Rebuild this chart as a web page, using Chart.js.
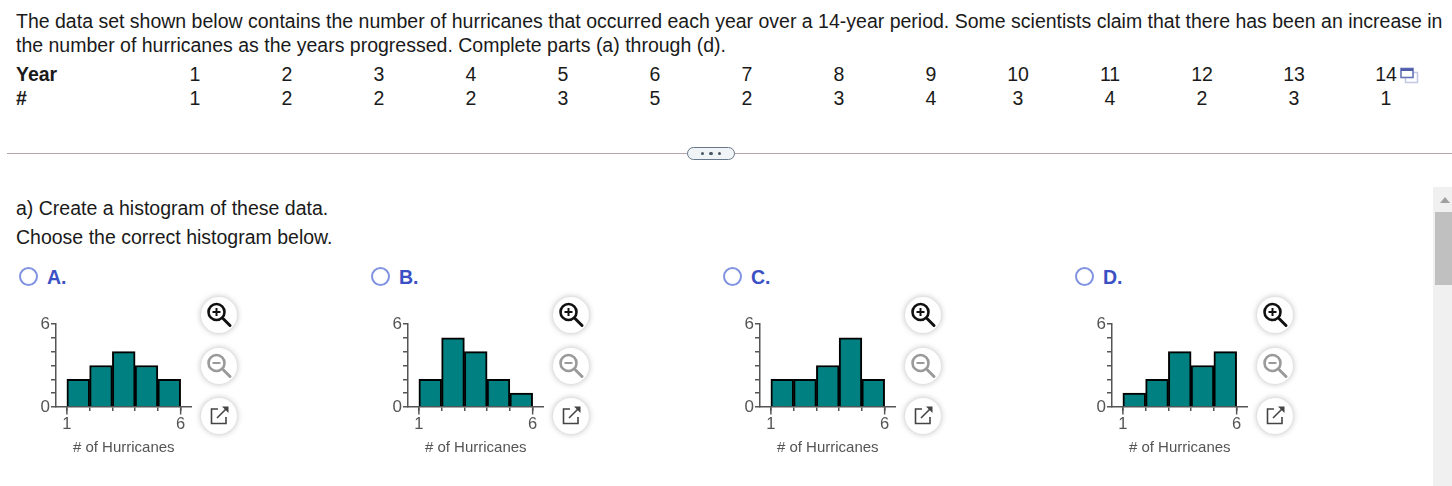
<!DOCTYPE html>
<html>
<head>
<meta charset="utf-8">
<title>Hurricanes</title>
<script src="https://cdn.jsdelivr.net/npm/chart.js@4"></script>
<style>
  html, body { margin: 0; padding: 0; background: #fff; overflow: hidden; }
  body { width: 1452px; height: 486px; position: relative; font-family: "Liberation Sans", Arial, sans-serif; color: #1a1a1a; }
  .t { position: absolute; white-space: nowrap; font-size: 19.5px; line-height: 24px; }
  .c { transform: translateX(-50%); }
  .b { font-weight: bold; }
  canvas { position: absolute; }
  .radio { position: absolute; width: 15px; height: 15px; border: 2.5px solid #8193e0; border-radius: 50%; top: 267px; }
  .letter { position: absolute; top: 265px; font-size: 19.5px; line-height: 24px; font-weight: bold; color: #3a50c4; }
  .btn { position: absolute; width: 36px; height: 36px; border-radius: 50%; background: #fff; box-shadow: 0 0 6px rgba(0,0,0,.28); }
  .btn svg { position: absolute; left: 0; top: 0; }
  #divider { position: absolute; left: 7px; right: 0; top: 153px; height: 1px; background: #b5a3ab; }
  #pill { position: absolute; left: 687px; top: 147px; width: 46px; height: 11px; border: 1.5px solid #66788a; border-radius: 7px; background: #f1f4f6; text-align: center; }
  #pill i { display: inline-block; width: 3.5px; height: 3.5px; border-radius: 50%; background: #4a5560; margin: 3.5px 2.5px 0; vertical-align: top; }
  #track { position: absolute; left: 1433px; top: 187px; width: 19px; bottom: 0; background: #f0f0f0; }
  #thumb { position: absolute; left: 1435px; top: 212px; width: 17px; height: 73px; background: #c0c0c0; }
  #arrow { position: absolute; left: 1440px; top: 197px; width: 0; height: 0; border-left: 5.5px solid transparent; border-right: 5.5px solid transparent; border-bottom: 6px solid #a0a0a0; }
</style>
</head>
<body>
<div class="t" style="left:16px;top:9px">The data set shown below contains the number of hurricanes that occurred each year over a 14-year period. Some scientists claim that there has been an increase in</div>
<div class="t" style="left:16px;top:33px">the number of hurricanes as the years progressed. Complete parts (a) through (d).</div>
<div class="t b" style="left:16px;top:62px">Year</div>
<div class="t b" style="left:16px;top:86px">#</div>
<div id="table"></div>
<svg style="position:absolute;left:1400px;top:67px" width="20" height="18">
  <rect x="5.5" y="5.5" width="12" height="10" fill="#fff" stroke="#c3c8e4" stroke-width="1.5"/>
  <rect x="1" y="1.5" width="12" height="9" fill="#fff" stroke="#6673b8" stroke-width="1.6"/>
  <rect x="1" y="1.5" width="12" height="2.5" fill="#4f5da8"/>
</svg>
<div id="divider"></div>
<div id="pill"><i></i><i></i><i></i></div>
<div class="t" style="left:16px;top:196px">a) Create a histogram of these data.</div>
<div class="t" style="left:16px;top:225px">Choose the correct histogram below.</div>
<div id="track"></div><div id="thumb"></div><div id="arrow"></div>
<div id="options"></div>

<script>
const years = [1, 2, 3, 4, 5, 6, 7, 8, 9, 10, 11, 12, 13, 14];
const hurricanes = [1, 2, 2, 2, 3, 5, 2, 3, 4, 3, 4, 2, 3, 1];
const yearCols = [195, 287, 379, 471, 563, 655, 747, 839, 931, 1018, 1110, 1202, 1294, 1386];

const binMids = [1.5, 2.5, 3.5, 4.5, 5.5];
const countsA = [2, 3, 4, 3, 2];
const countsB = [2, 5, 4, 2, 1];
const countsC = [2, 2, 3, 5, 2];
const countsD = [1, 2, 4, 3, 4];
const xTickValues = [1, 2, 3, 4, 5, 6];
const xLabelled = [1, 6];
const yLabelled = [0, 6];
const optionLetters = ["A.", "B.", "C.", "D."];
const optionCounts = [countsA, countsB, countsC, countsD];

const gray = "#555";

const table = document.getElementById("table");
years.forEach((y, i) => {
  table.insertAdjacentHTML("beforeend",
    `<div class="t c" style="left:${yearCols[i]}px;top:62px">${y}</div>` +
    `<div class="t c" style="left:${yearCols[i]}px;top:86px">${hurricanes[i]}</div>`);
});

const zoomIn = `<svg width="36" height="36"><circle cx="15.5" cy="15" r="8" fill="none" stroke="#111" stroke-width="2.6"/><path d="M21.5 21l7.5 7.5" stroke="#111" stroke-width="3" stroke-linecap="round"/><path d="M11.5 15h8M15.5 11v8" stroke="#111" stroke-width="2"/></svg>`;
const zoomOut = `<svg width="36" height="36"><circle cx="15.5" cy="15" r="8" fill="none" stroke="#9a9a9a" stroke-width="2.6"/><path d="M21.5 21l7.5 7.5" stroke="#9a9a9a" stroke-width="3" stroke-linecap="round"/><path d="M11.5 15h8" stroke="#9a9a9a" stroke-width="2"/></svg>`;
const popOut = `<svg width="36" height="36"><path d="M17 11h-6.5v14.5H25V19" fill="none" stroke="#444" stroke-width="1.6"/><path d="M16 20l10-10" stroke="#444" stroke-width="1.6"/><path d="M21 8.5h6.5V15z" fill="#444"/></svg>`;

// the labelled x ticks are longer than the others
const longTicks = {
  id: "longTicks",
  afterDraw(chart) {
    const { ctx, scales } = chart;
    ctx.save();
    ctx.strokeStyle = gray;
    ctx.lineWidth = 1.5;
    xLabelled.forEach((v) => {
      const px = scales.x.getPixelForValue(v);
      ctx.beginPath();
      ctx.moveTo(px, scales.x.top);
      ctx.lineTo(px, scales.x.top + 7.5);
      ctx.stroke();
    });
    ctx.restore();
  },
};

const options = document.getElementById("options");

optionLetters.forEach((letter, i) => {
  const dx = 352 * i;
  options.insertAdjacentHTML("beforeend",
    `<div class="radio" style="left:${19 + dx}px"></div>` +
    `<div class="letter" style="left:${47 + dx}px">${letter}</div>` +
    `<div class="btn" style="left:${201 + dx}px;top:297px">${zoomIn}</div>` +
    `<div class="btn" style="left:${201 + dx}px;top:348px">${zoomOut}</div>` +
    `<div class="btn" style="left:${201 + dx}px;top:398px">${popOut}</div>`);

  const canvas = document.createElement("canvas");
  canvas.width = 176;
  canvas.height = 147;
  canvas.style.left = 16 + dx + "px";
  canvas.style.top = "310px";
  options.appendChild(canvas);

  new Chart(canvas.getContext("2d"), {
    type: "bar",
    data: {
      datasets: [{
        data: binMids.map((m, k) => ({ x: m, y: optionCounts[i][k] })),
        backgroundColor: "#008080",
        borderColor: "#000",
        borderWidth: 2,
        barPercentage: 1,
        categoryPercentage: 1,
      }],
    },
    plugins: [longTicks],
    options: {
      responsive: false,
      animation: false,
      devicePixelRatio: 1,
      layout: { padding: { top: 14, left: 0, right: 0, bottom: 0 } },
      plugins: { legend: { display: false }, tooltip: { enabled: false } },
      scales: {
        x: {
          type: "linear",
          offset: false,
          min: 0.5,
          max: 6.5,
          afterBuildTicks: (s) => { s.ticks = xTickValues.map((v) => ({ value: v })); },
          afterFit: (s) => { s.height = 50; },
          grid: { offset: false, drawOnChartArea: false, color: gray, tickLength: 4, lineWidth: 1.5 },
          border: { color: gray, width: 1.5 },
          ticks: {
            autoSkip: false,
            maxRotation: 0,
            padding: 4,
            color: gray,
            font: { family: "Liberation Sans", size: 16.5 },
            callback: (v) => (xLabelled.includes(v) ? String(v) : ""),
          },
          title: {
            display: true,
            text: "# of Hurricanes",
            color: gray,
            font: { family: "Liberation Sans", size: 15 },
            padding: { top: 3, bottom: 0 },
          },
        },
        y: {
          min: 0,
          max: 6,
          afterFit: (s) => { s.width = 39.5; },
          grid: { drawOnChartArea: false, color: gray, tickLength: 4.5, lineWidth: 1.5 },
          border: { color: gray, width: 1.5 },
          ticks: {
            autoSkip: false,
            stepSize: 1,
            padding: 1,
            color: gray,
            font: { family: "Liberation Sans", size: 17 },
            callback: (v) => (yLabelled.includes(v) ? String(v) : ""),
          },
        },
      },
    },
  });
});
</script>
</body>
</html>
